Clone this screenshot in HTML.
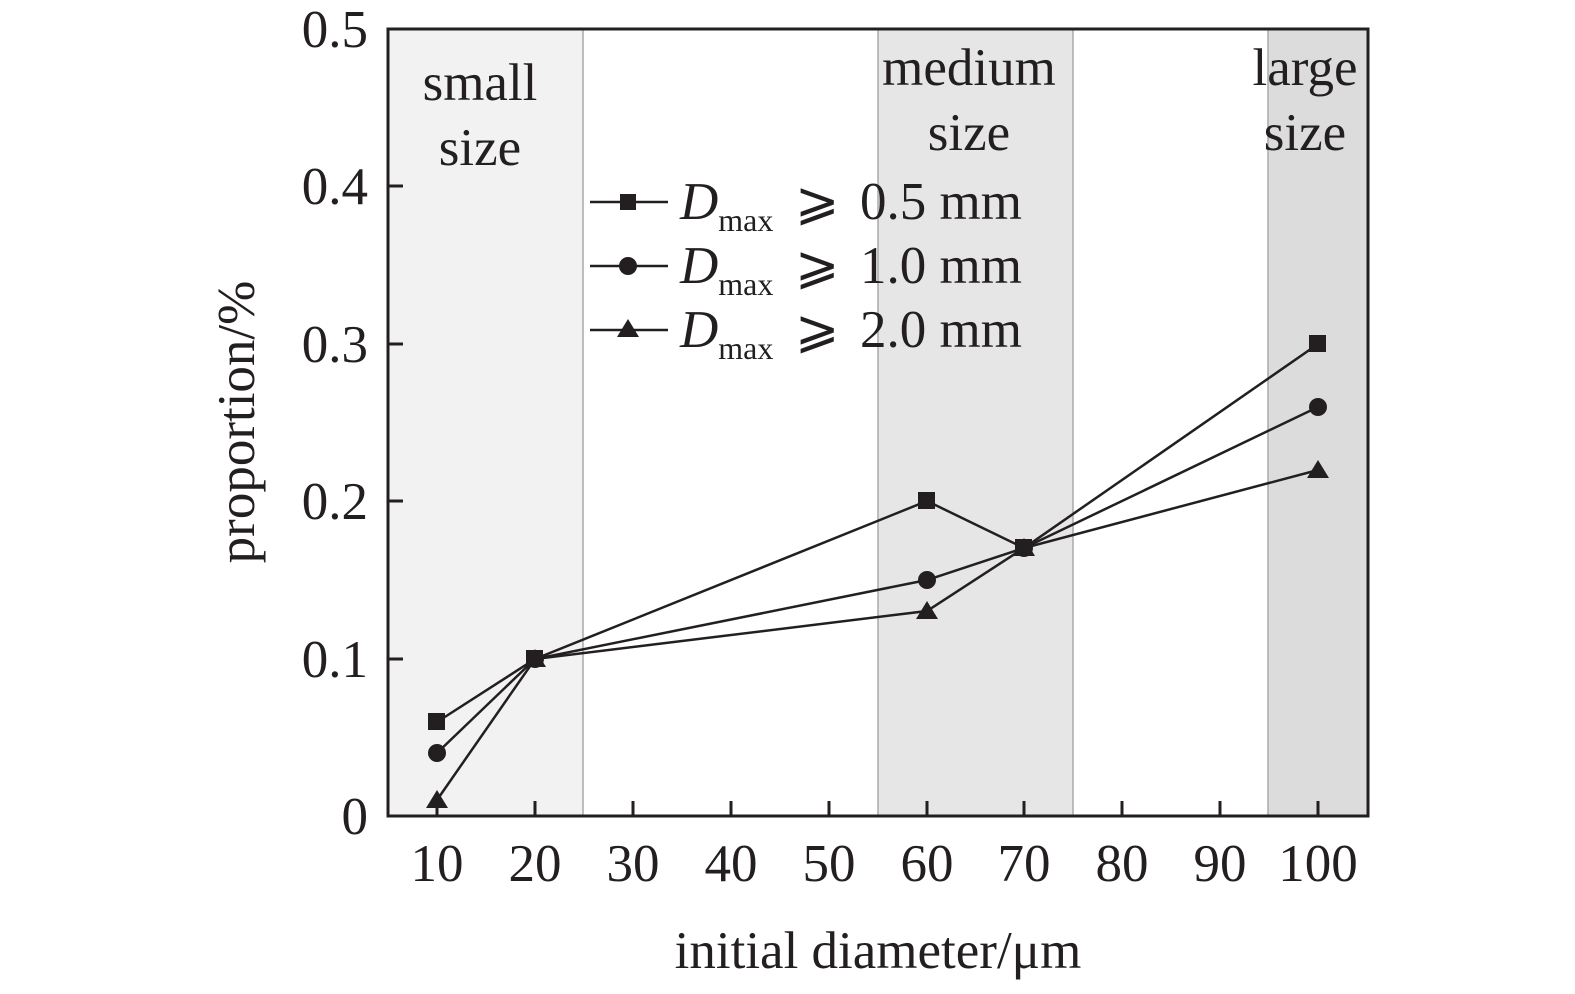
<!DOCTYPE html>
<html><head><style>body{margin:0;background:#fff}</style></head><body>
<svg width="1575" height="989" xmlns="http://www.w3.org/2000/svg" font-family="Liberation Serif, serif" fill="#231f20">
<rect x="388" y="29" width="195" height="787" fill="#f2f2f2"/>
<rect x="878" y="29" width="195" height="787" fill="#e6e6e6"/>
<rect x="1268" y="29" width="100" height="787" fill="#dcdcdc"/>
<g stroke="#aaa" stroke-width="1.5">
<line x1="583" y1="29" x2="583" y2="816"/><line x1="878" y1="29" x2="878" y2="816"/><line x1="1073" y1="29" x2="1073" y2="816"/><line x1="1268" y1="29" x2="1268" y2="816"/>
</g>
<rect x="388" y="29" width="980" height="787" fill="none" stroke="#231f20" stroke-width="3"/>
<g stroke="#231f20" stroke-width="3">
<line x1="437" y1="816" x2="437" y2="801"/><line x1="535" y1="816" x2="535" y2="801"/><line x1="633" y1="816" x2="633" y2="801"/><line x1="731" y1="816" x2="731" y2="801"/><line x1="829" y1="816" x2="829" y2="801"/><line x1="927" y1="816" x2="927" y2="801"/><line x1="1024" y1="816" x2="1024" y2="801"/><line x1="1122" y1="816" x2="1122" y2="801"/><line x1="1220" y1="816" x2="1220" y2="801"/><line x1="1318" y1="816" x2="1318" y2="801"/>
<line x1="388" y1="659" x2="403" y2="659"/><line x1="388" y1="501" x2="403" y2="501"/><line x1="388" y1="344" x2="403" y2="344"/><line x1="388" y1="186" x2="403" y2="186"/>
</g>
<g font-size="53" text-anchor="end">
<text x="368" y="834">0</text><text x="368" y="677">0.1</text><text x="368" y="519">0.2</text><text x="368" y="362">0.3</text><text x="368" y="204">0.4</text><text x="368" y="47">0.5</text>
</g>
<g font-size="53" text-anchor="middle">
<text x="437" y="881">10</text><text x="535" y="881">20</text><text x="633" y="881">30</text><text x="731" y="881">40</text><text x="829" y="881">50</text><text x="927" y="881">60</text><text x="1024" y="881">70</text><text x="1122" y="881">80</text><text x="1220" y="881">90</text><text x="1318" y="881">100</text>
<text x="878" y="968">initial diameter/μm</text>
<text x="480" y="100">small</text><text x="480" y="165">size</text>
<text x="969" y="85">medium</text><text x="969" y="150">size</text>
<text x="1305" y="85">large</text><text x="1305" y="150">size</text>
<text transform="translate(254,422) rotate(-90)">proportion/%</text>
</g>
<g fill="none" stroke="#231f20" stroke-width="2.5">
<polyline points="437,722 535,659 927,501 1024,548 1318,344"/>
<polyline points="437,753 535,659 927,580 1024,548 1318,407"/>
<polyline points="437,800 535,659 927,611 1024,548 1318,470"/>
</g>
<g>
<rect x="428" y="713" width="17" height="17"/><rect x="526" y="650" width="17" height="17"/><rect x="918" y="492" width="17" height="17"/><rect x="1015" y="539" width="17" height="17"/><rect x="1309" y="335" width="17" height="17"/>
<circle cx="437" cy="753" r="9"/><circle cx="535" cy="659" r="9"/><circle cx="927" cy="580" r="9"/><circle cx="1024" cy="548" r="9"/><circle cx="1318" cy="407" r="9"/>
<polygon points="437,790 448,808 426,808"/><polygon points="535,649 546,667 524,667"/><polygon points="927,601 938,619 916,619"/><polygon points="1024,538 1035,556 1013,556"/><polygon points="1318,460 1329,478 1307,478"/>
</g>
<g stroke="#231f20" stroke-width="2.5">
<line x1="590" y1="202" x2="668" y2="202"/><line x1="590" y1="266" x2="668" y2="266"/><line x1="590" y1="330" x2="668" y2="330"/>
</g>
<rect x="620" y="194" width="16" height="16"/><circle cx="628" cy="266" r="9"/><polygon points="628,319 639,337 617,337"/>
<g font-size="53">
<text x="680" y="219"><tspan font-style="italic">D</tspan><tspan font-size="32" dy="12">max</tspan><tspan dy="-12" x="795">⩾</tspan><tspan x="860">0.5 mm</tspan></text>
<text x="680" y="283"><tspan font-style="italic">D</tspan><tspan font-size="32" dy="12">max</tspan><tspan dy="-12" x="795">⩾</tspan><tspan x="860">1.0 mm</tspan></text>
<text x="680" y="347"><tspan font-style="italic">D</tspan><tspan font-size="32" dy="12">max</tspan><tspan dy="-12" x="795">⩾</tspan><tspan x="860">2.0 mm</tspan></text>
</g>
</svg>
</body></html>
